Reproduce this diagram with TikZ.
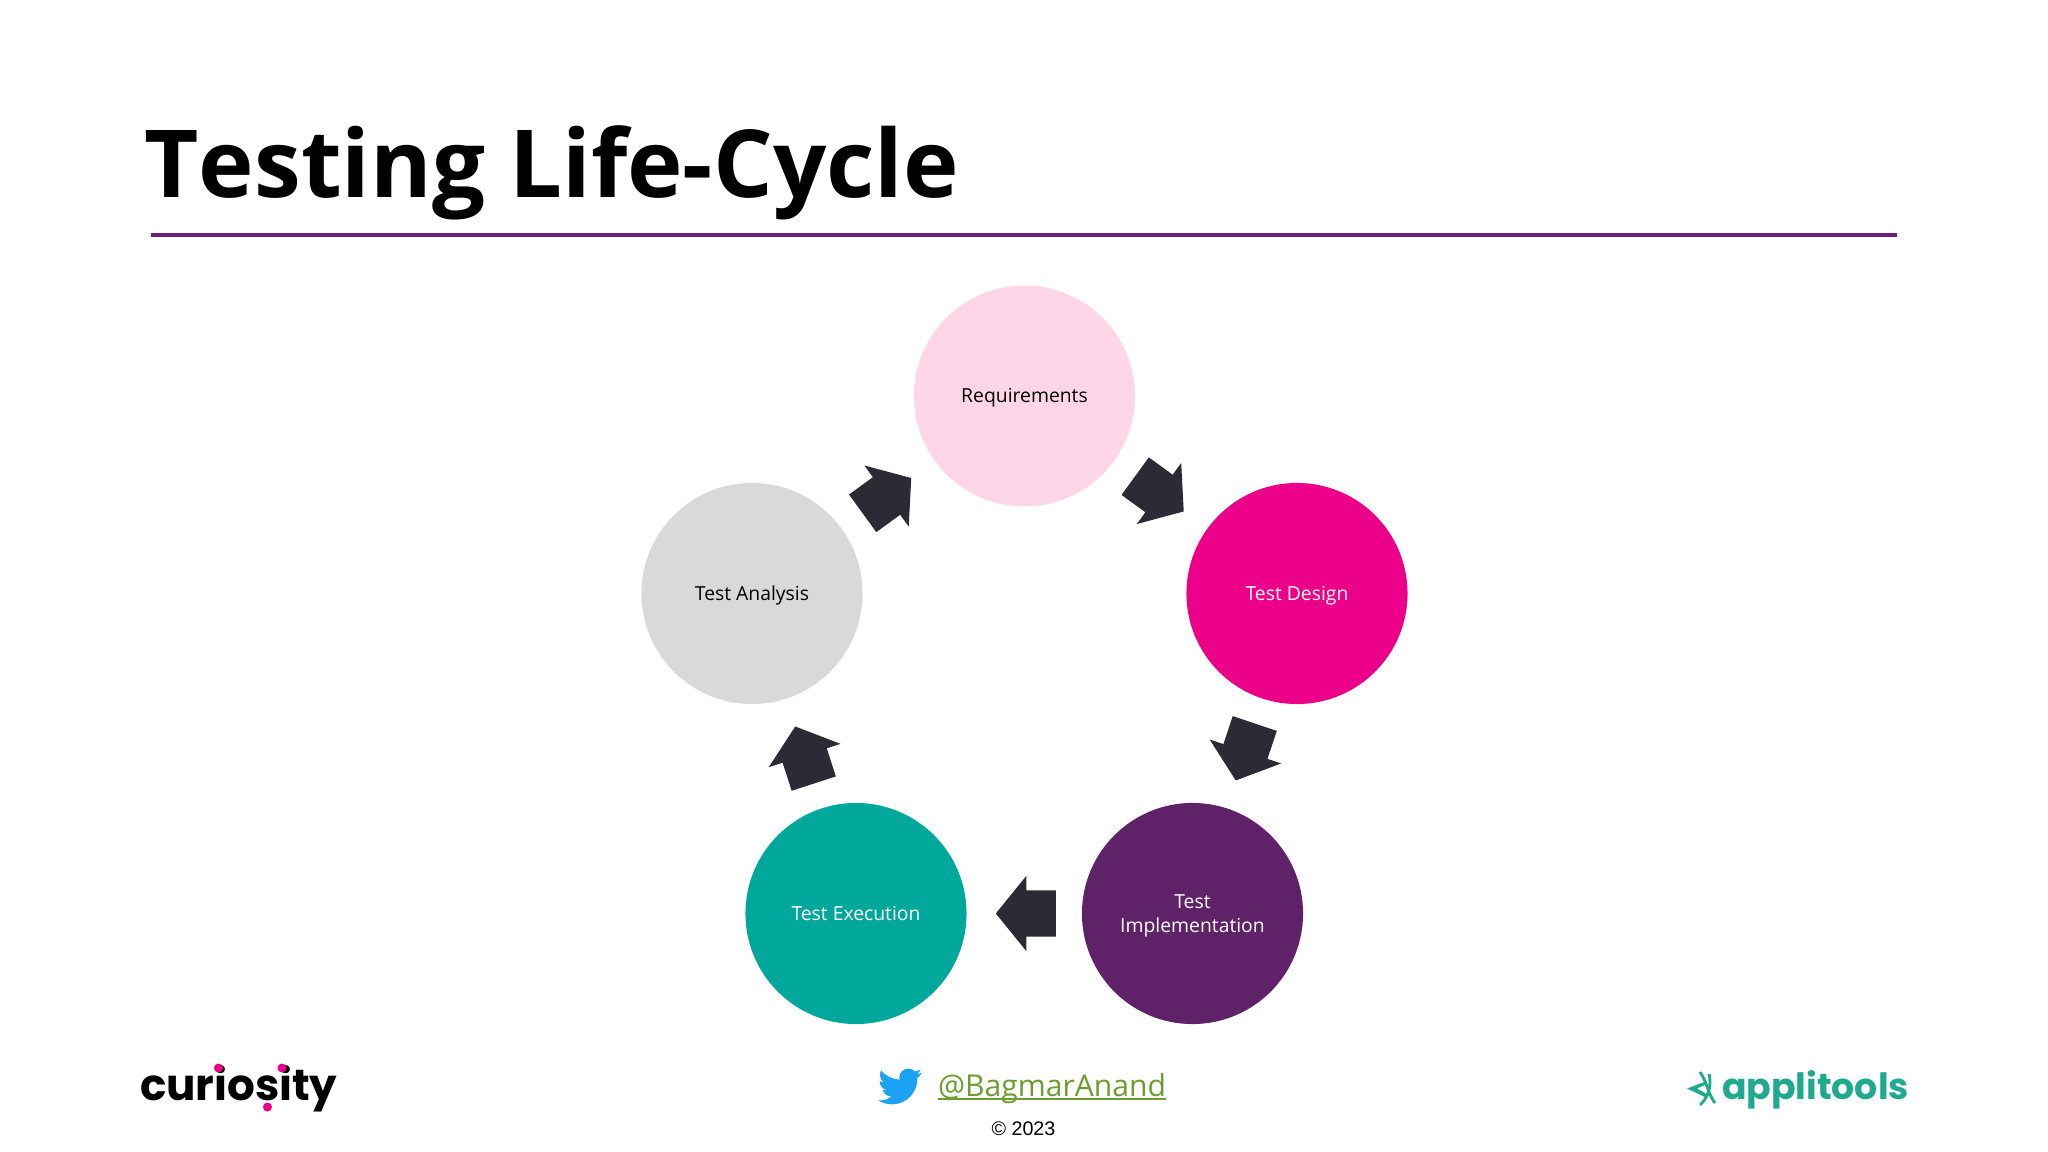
\documentclass[tikz,border=0pt]{standalone}
\usepackage{fontspec}
\setmainfont{Open Sans}
\newfontfamily\copyfont{Liberation Sans}
\newfontfamily\logofont{Poppins}
\usetikzlibrary{calc,shapes.arrows}
\definecolor{rulepurple}{HTML}{662478}
\definecolor{softpink}{HTML}{FFD6E8}
\definecolor{hotpink}{HTML}{EC0089}
\definecolor{testpurple}{HTML}{5F2167}
\definecolor{testteal}{HTML}{00A79B}
\definecolor{softgray}{HTML}{D9D9D9}
\definecolor{arrowdark}{HTML}{2B2A35}
\definecolor{linkgreen}{HTML}{6B9E2E}
\definecolor{birdblue}{HTML}{1DA1F2}
\definecolor{toolsteal}{HTML}{1FA98F}
\tikzset{
    phase/.style={circle, minimum size=2.21cm, inner sep=0pt, align=center, text height=0.135cm, text depth=0pt, font=\fontsize{5.5}{6.7}\selectfont},
    flow/.style={single arrow, fill=arrowdark, inner xsep=0pt, inner ysep=0.225cm, minimum height=0.6cm, single arrow head extend=0.145cm, single arrow tip angle=102, rotate=#1, xshift=-0.11cm},
    flat/.style={inner sep=0pt, outer sep=0pt},
}
\begin{document}
\begin{tikzpicture}[x=0.01cm,y=-0.01cm]
    \useasboundingbox (0,0) rectangle (2048,1152);

    % title
    \node[flat, anchor=base west] (title) at (144.5,198) {\fontsize{26.7}{30}\selectfont\bfseries T\kern0pt esting Life-Cycle};
    \fill[rulepurple] (151,233) rectangle (1897,237.5);

    % phases
    \node[phase, fill=softpink] (req) at (1024.5,396) {Requirements};
    \node[phase, fill=hotpink, text=white] (design) at (1297,593.5) {Test Design};
    \node[phase, fill=testpurple, text=white, text height=0.37cm] (impl) at (1192.5,913.5) {Test\\Implementation};
    \node[phase, fill=testteal, text=white] (exec) at (856,913.5) {Test Execution};
    \node[phase, fill=softgray] (analysis) at (752,593.5) {Test Analysis};

    % arrows
    \node[flow=-36] (a1) at ($(req)!0.5!(design)$) {};
    \node[flow=-108.5] (a2) at ($(design)!0.5!(impl)$) {};
    \node[flow=180] (a3) at ($(impl)!0.5!(exec)$) {};
    \node[flow=108] (a4) at ($(exec)!0.5!(analysis)$) {};
    \node[flow=36] (a5) at ($(analysis)!0.5!(req)$) {};

    % curiosity logo
    \node[flat, anchor=base west] (curiosity) at (140,1100) {\logofont\fontsize{12.4}{15}\selectfont\bfseries curiosity};
    \fill[hotpink] (218.5,1068) circle (4.5);
    \fill[hotpink] (282,1068) circle (4.5);
    \fill[hotpink] (267.5,1107) circle (4.5);

    % twitter
    \begin{scope}[shift={(878,1064.5)},x=0.0183cm,y=-0.0183cm]
        \fill[birdblue] (23.95,4.57) .. controls (23.06,4.96) and (22.11,5.22) .. (21.13,5.34)
            .. controls (22.14,4.73) and (22.92,3.77) .. (23.29,2.62)
            .. controls (22.34,3.18) and (21.29,3.58) .. (20.16,3.80)
            .. controls (19.27,2.84) and (17.99,2.25) .. (16.57,2.25)
            .. controls (13.85,2.25) and (11.65,4.45) .. (11.65,7.17)
            .. controls (11.65,7.56) and (11.69,7.93) .. (11.78,8.29)
            .. controls (7.69,8.10) and (4.07,6.13) .. (1.64,3.16)
            .. controls (1.22,3.89) and (0.97,4.73) .. (0.97,5.64)
            .. controls (0.97,7.35) and (1.84,8.85) .. (3.16,9.73)
            .. controls (2.35,9.70) and (1.60,9.49) .. (0.93,9.12)
            -- (0.93,9.18)
            .. controls (0.93,11.56) and (2.63,13.55) .. (4.88,14.01)
            .. controls (4.17,14.20) and (3.41,14.22) .. (2.66,14.09)
            .. controls (3.30,16.05) and (5.12,17.46) .. (7.27,17.50)
            .. controls (5.58,18.83) and (3.44,19.61) .. (1.17,19.61)
            .. controls (0.78,19.61) and (0.39,19.59) .. (0,19.54)
            .. controls (2.19,20.93) and (4.78,21.75) .. (7.56,21.75)
            .. controls (16.61,21.75) and (21.56,14.25) .. (21.56,7.76)
            .. controls (21.56,7.55) and (21.56,7.34) .. (21.54,7.13)
            .. controls (22.50,6.44) and (23.34,5.57) .. (24,4.59) -- cycle;
    \end{scope}

    % handle
    \node[flat, anchor=base west, text=linkgreen] (handle) at (938,1096) {\fontsize{8.56}{11}\selectfont @BagmarAnand};
    \draw[linkgreen, line width=0.5pt] (938,1099) -- (1166,1099);
    \node[flat, anchor=base] (copy) at (1023.5,1135) {\copyfont\fontsize{5.6}{7}\selectfont © 2023};

    % applitools logo
    \fill[toolsteal] (1687,1088.5) -- (1707,1081) -- (1705,1085) -- (1697,1088.5) -- (1708,1095) -- (1707,1098) -- cycle;
    \draw[toolsteal, line width=0.8pt] (1700,1072) .. controls (1707,1082) and (1708,1094) .. (1715,1103);
    \draw[toolsteal, line width=0.8pt] (1709,1074) .. controls (1712,1086) and (1708,1098) .. (1700,1105);
    \node[flat, anchor=base west, text=toolsteal] (tools) at (1722,1099) {\logofont\fontsize{10.3}{13}\selectfont\bfseries applitools};
\end{tikzpicture}
\end{document}
